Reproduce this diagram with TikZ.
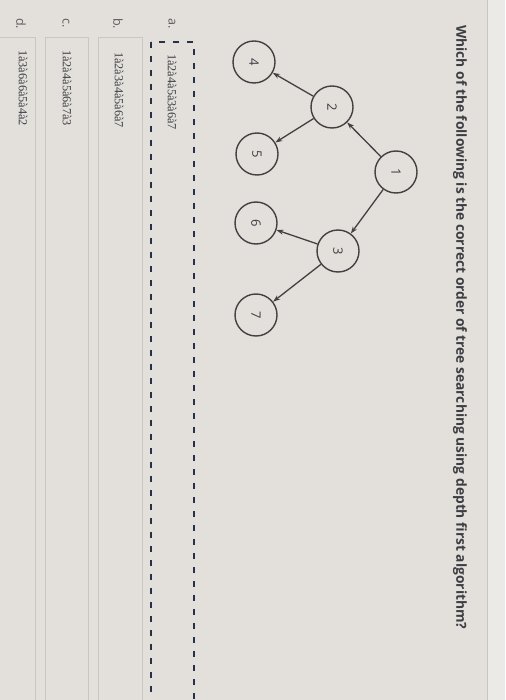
\documentclass[tikz,border=0pt]{standalone}
\usepackage{fontspec}
\setmainfont{Liberation Serif}
\newfontfamily\opensans{Open Sans}
\usetikzlibrary{arrows.meta}
\definecolor{screen}{RGB}{227,224,219}
\definecolor{margin}{RGB}{236,234,231}
\definecolor{treeline}{RGB}{65,65,65}
\definecolor{inkgray}{RGB}{60,62,68}
\definecolor{boxgray}{RGB}{200,199,196}
\definecolor{navy}{RGB}{40,48,72}
\tikzset{
    treenode/.style={circle, draw=treeline, line width=1.4pt,
    	minimum size=42pt, inner sep=0pt, rotate=-90,
    	font=\opensans\fontsize{13}{15}\selectfont, text=inkgray}
}
\tikzset{
    every edge/.append style={line width=1.3pt, draw=treeline,
    	-{Stealth[length=7pt,width=5pt]}}
}
\tikzset{
	question/.style={rotate=-90, anchor=west, inner sep=0pt, text=inkgray,
		font=\opensans\bfseries\fontsize{13.8}{16}\selectfont},
	optlabel/.style={rotate=-90, anchor=west, inner sep=0pt, text=inkgray!85,
		font=\opensans\fontsize{12.5}{14}\selectfont},
	opttext/.style={rotate=-90, anchor=west, inner sep=0pt, text=inkgray,
		font=\fontsize{12.3}{14}\selectfont},
	optbox/.style={draw=boxgray, line width=0.8pt},
	ansbox/.style={draw=navy, line width=1.8pt, dash pattern=on 6pt off 8pt}
}
\pgfdeclarelayer{background}
\pgfsetlayers{background,main}

\begin{document}
\begin{tikzpicture}[x=1pt,y=-1pt]
	\useasboundingbox (0,0) rectangle (505,700);
	\clip (0,0) rectangle (505,700);

	\begin{pgfonlayer}{background}
		\fill[screen] (0,0) rectangle (505,700);
		\fill[margin] (487,0) rectangle (505,700);
		\draw[boxgray, line width=0.8pt] (487,0) -- (487,700);
	\end{pgfonlayer}

	\node[question] (q) at (460,25)
		{Which of the following is the correct order of tree searching using depth first algorithm?};

	% tree
	\node[treenode] (1) at (396,172) {1};
	\node[treenode] (2) at (332,107) {2};
	\node[treenode] (3) at (338,251) {3};
	\node[treenode] (4) at (254,62) {4};
	\node[treenode] (5) at (257,154) {5};
	\node[treenode] (6) at (256,223) {6};
	\node[treenode] (7) at (256,315) {7};

	\draw (1) edge (2); \draw (1) edge (3);
	\draw (2) edge (4); \draw (2) edge (5);
	\draw (3) edge (6); \draw (3) edge (7);

	% options
	\draw[ansbox] (151,42) rectangle (194,720);
	\draw[optbox] (98,37) rectangle (142,720);
	\draw[optbox] (45,37) rectangle (88,720);
	\draw[optbox] (-20,37) rectangle (35,720);

	\node[optlabel] (la) at (172,18) {a.};
	\node[optlabel] (lb) at (118,18) {b.};
	\node[optlabel] (lc) at (66,18) {c.};
	\node[optlabel] (ld) at (21,18) {d.};

	\node[opttext] (ta) at (172,54) {1à2à4à5à3à6à7};
	\node[opttext] (tb) at (119,52) {1à2à3à4à5à6à7};
	\node[opttext] (tc) at (67,50) {1à2à4à5à6à7à3};
	\node[opttext] (td) at (23,50) {1à3à6à6à5à4à2};
\end{tikzpicture}
\end{document}
